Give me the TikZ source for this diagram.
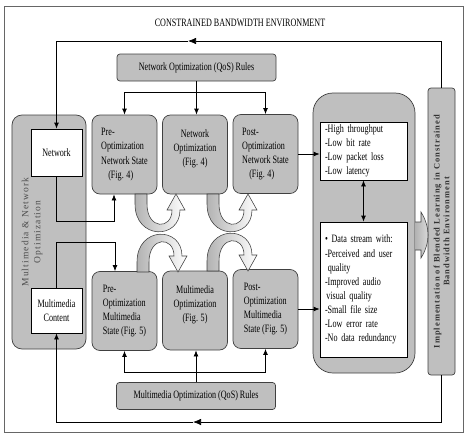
\documentclass[tikz,border=0pt]{standalone}
\usepackage{fontspec}
\setmainfont{Liberation Serif}[FakeStretch=0.72]
\newfontfamily\spacedfont{Liberation Serif}[LetterSpace=12]
\usetikzlibrary{arrows.meta}
\tikzstyle{graybox}=[draw=black!75, fill=gray!50, rounded corners=4mm, line width=1pt]
\tikzstyle{statebox}=[graybox, minimum width=32.5mm, minimum height=39.5mm, inner sep=1mm]
\tikzstyle{rulebox}=[graybox, rounded corners=1.5mm, minimum width=79.5mm, minimum height=13.5mm]
\tikzstyle{whitebox}=[draw=black, fill=white, line width=1pt]
\tikzstyle{link}=[line width=1pt, ->]
\tikzstyle{midlink}=[link, >={Latex[length=4mm,width=3.2mm]}]
\tikzset{
	uturn/.pic={
		\draw[draw=black!75, line width=0.8pt, left color=gray!60, right color=white] (0,0) -- (0,10) .. controls (0,46) and (45,46) .. (45,16) -- (50,16) -- (41,0) -- (32,16) -- (37,16) .. controls (37,36) and (12,36) .. (12,10) -- (12,0) -- cycle;
	}
}
\begin{document}
\begin{tikzpicture}[x=0.5mm, y=-0.5mm, >={Latex[length=3mm,width=2.4mm]}, font=\fontsize{16}{20}\selectfont]
	\useasboundingbox (0,0) rectangle (474,442);
	\draw[black!60, line width=1pt] (4,6) rectangle (463,432);
	\node (title) at (240,23) {CONSTRAINED BANDWIDTH ENVIRONMENT};
	\node[rulebox] (netRules) at (196.5,67.5) {Network Optimization (QoS) Rules};
	\node[statebox, align=left] (preNet) at (124.5,154.5) {Pre-\\Optimization\\Network State\\\hspace{10pt}(Fig. 4)};
	\node[statebox, align=center] (netOpt) at (195,154.5) {Network\\Optimization\\(Fig. 4)\\\mbox{}};
	\node[statebox, align=left] (postNet) at (265.5,154) {Post-\\Optimization\\Network State\\\hspace{10pt}(Fig. 4)};
	\node[statebox, align=left] (preMM) at (124.5,311) {Pre-\\Optimization\\Multimedia\\State (Fig. 5)};
	\node[statebox, align=center] (mmOpt) at (195,310.5) {Multimedia\\Optimization\\(Fig. 5)\\\mbox{}};
	\node[statebox, align=left] (postMM) at (265.5,309) {Post-\\Optimization\\Multimedia\\State (Fig. 5)};
	\node[rulebox] (mmRules) at (196,396) {Multimedia Optimization (QoS) Rules};
	\node[graybox, rounded corners=5mm, minimum width=37mm, minimum height=117mm] (leftBox) at (49,232) {};
	\node[rotate=90, align=center, text=black!70, font=\spacedfont\fontsize{13.5}{17}\selectfont] (leftLabel) at (32,232) {Multimedia \& Network\\Optimization};
	\node[whitebox, minimum width=25.5mm, minimum height=23.5mm] (network) at (56.5,152.5) {Network};
	\node[whitebox, minimum width=25.5mm, minimum height=22.5mm, align=center] (mmContent) at (56.5,310.5) {Multimedia\\Content};
	\node[graybox, rounded corners=10mm, minimum width=51mm, minimum height=140mm] (resultBox) at (364,233) {};
	\node[whitebox, text width=38.5mm, inner xsep=2.5mm, minimum height=29mm, align=left] (netGoals) at (363.5,151) {-High throughput\\-Low bit rate\\-Low packet loss\\-Low latency};
	\node[whitebox, text width=38.5mm, inner xsep=2.5mm, minimum height=67.5mm, align=left] (mmGoals) at (363.5,289.5) {• Data stream with:\\-Perceived and user\\\hspace{4pt}quality\\-Improved audio\\\hspace{2pt}visual quality\\-Small file size\\-Low error rate\\-No data redundancy};
	\node[graybox, rounded corners=1.5mm, rotate=90, minimum width=143.5mm, minimum height=13.5mm, inner sep=0pt, align=center, text=black!80, font=\spacedfont\bfseries\fontsize{12}{14}\selectfont] (implBox) at (441.5,231.5) {Implementation of Blended Learning in Constrained\\Bandwidth Environment};
	\coordinate (fbTop) at (56.5,41);
	\coordinate (fbTopMid) at (188,41);
	\coordinate (fbBottom) at (56.5,422);
	\coordinate (fbBottomMid) at (193,422);
	\draw[midlink] (implBox.east) |- (fbTopMid);
	\draw[link] (fbTopMid) -- (fbTop) -- (network.north);
	\draw[midlink] (implBox.west) |- (fbBottomMid);
	\draw[link] (fbBottomMid) -- (fbBottom) -- (mmContent.south);
	\coordinate (netFork) at (196.5,92);
	\draw[link] (netRules.south) -- (netRules.south |- netOpt.north);
	\draw[link] (netFork) -| (preNet.north);
	\draw[link] (netFork) -| (postNet.north);
	\coordinate (mmFork) at (196,372);
	\draw[link] (mmRules.north) -- (mmRules.north |- mmOpt.south);
	\draw[link] (mmFork) -| (preMM.south);
	\draw[link] (mmFork) -| (postMM.south);
	\coordinate (netJoin) at (114,221);
	\draw[link] (network.south) |- (netJoin) -- (netJoin |- preNet.south);
	\coordinate (mmJoin) at (115,242);
	\draw[link] (mmContent.north) |- (mmJoin) -- (mmJoin |- preMM.north);
	\draw[link] (postNet.east) -- (postNet.east -| netGoals.west);
	\draw[link] (postMM.east) -- (postMM.east -| mmGoals.west);
	\draw[link, <->] (netGoals.south) -- (mmGoals.north);
	\draw[draw=black!75, line width=0.8pt, left color=gray!60, right color=gray!30] (415,222) -- (421,222) -- (421,212) .. controls (426,220) and (428,228) .. (428,235) .. controls (428,242) and (426,250) .. (421,258) -- (421,250) -- (415,250);
	\pic at (135,194) {uturn};
	\pic at (207,194) {uturn};
	\pic[yscale=-1] at (137,272) {uturn};
	\pic[yscale=-1] at (207,271) {uturn};
\end{tikzpicture}
\end{document}
